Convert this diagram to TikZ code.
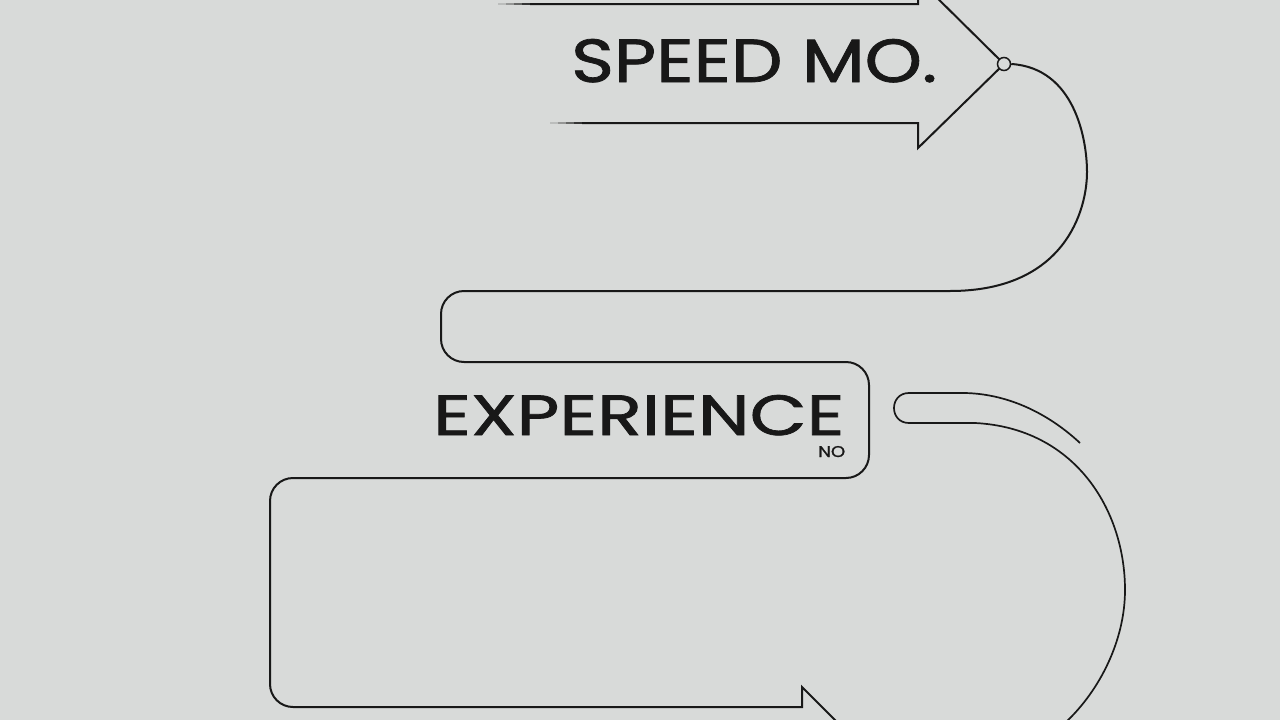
\documentclass[tikz,border=0pt]{standalone}
\usepackage{fontspec}
\setmainfont{Poppins}
\newfontfamily\lblfont{Poppins}[FakeBold=1.2]
\usepackage{graphicx}
\definecolor{bg}{RGB}{216,218,217}
\definecolor{ink}{RGB}{24,24,24}
\begin{document}
\begin{tikzpicture}[x=1pt,y=-1pt,
  line/.style={draw=ink,line width=2pt,line join=miter},
  lbl/.style={inner sep=0pt,anchor=base west,text=ink,font=\lblfont}]
\fill[bg] (0,0) rectangle (1280,720);
\useasboundingbox (0,0) rectangle (1280,720);
\clip (0,0) rectangle (1280,720);

% texts
\node[lbl] (speed) at (571,82) {\resizebox{366pt}{43pt}{SPEED MO.}};
\node[lbl] (exp) at (433,435) {\resizebox{411pt}{40pt}{EXPERIENCE}};
\node[lbl] (no) at (818,457) {\resizebox{27pt}{11pt}{NO}};

% top arrow (faded left ends)
\coordinate (tip) at (1004,64);
\foreach \p/\c in {0/15,8/35,16/60,24/85}{
  \draw[draw=ink!\c!bg,line width=2pt] (498+\p,4) -- (506+\p,4);
  \draw[draw=ink!\c!bg,line width=2pt] (550+\p,123) -- (558+\p,123);
}
\draw[line] (530,4) -- (918,4) -- (918,-21) -- (tip) -- (918,148) -- (918,123) -- (582,123);
\node[circle,draw=ink,fill=bg,line width=1.5pt,minimum size=13pt,inner sep=0pt] (joint) at (tip) {};

% winding path to bottom arrow
\draw[line] (joint.east) .. controls (1075,68) and (1087,140) .. (1087,172)
  .. controls (1087,210) and (1065,291) .. (950,291) -- (900,291)
  [rounded corners=23pt] -- (441,291) -- (441,362) -- (869,362)
  -- (869,478) -- (270,478) -- (270,707) -- (320,707) [sharp corners] -- (802,707) -- (802,687) -- (845,730);

% right loop
\draw[line,line width=1.7pt] (1080,443) .. controls (1050,415) and (1010,394) .. (965,393) -- (909,393)
  .. controls (889,393) and (889,423) .. (909,423) -- (975,423)
  .. controls (1075,428) and (1125,510) .. (1125,590)
  .. controls (1125,640) and (1100,690) .. (1066,722);
\end{tikzpicture}
\end{document}
